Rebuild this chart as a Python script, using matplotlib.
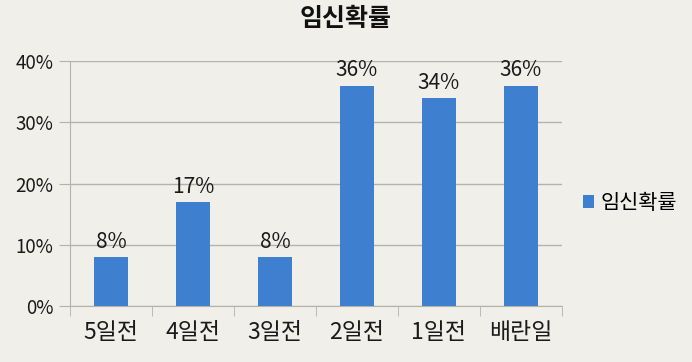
import matplotlib
matplotlib.use("Agg")
import matplotlib.pyplot as plt
import numpy as np

plt.rcParams['font.family'] = ['Noto Sans CJK KR', 'DejaVu Sans']

categories = ['5일전', '4일전', '3일전', '2일전', '1일전', '배란일']
values = [8, 17, 8, 36, 34, 36]
series_name = '임신확률'
yticks = [0, 10, 20, 30, 40]

bg = '#F0EFEA'
bar_color = '#3F7FD0'
grid_color = '#B4B2AC'

fig = plt.figure(figsize=(6.92, 3.62), dpi=100, facecolor=bg)
ax = fig.add_axes([0.101, 0.155, 0.711, 0.676], facecolor=bg)

x = np.arange(len(categories))
ax.bar(x, values, width=0.41, color=bar_color, label=series_name, zorder=3)

for xi, v in zip(x, values):
    ax.annotate(f'{v}%', (xi, v), xytext=(0, 3), textcoords='offset points',
                ha='center', va='bottom', fontsize=15, color='#1a1a1a')

ax.set_xlim(-0.5, len(categories) - 0.5)
ax.set_ylim(0, 40)
ax.set_yticks(yticks)
ax.set_yticklabels([f'{t}%' for t in yticks], fontsize=13.5, color='#1a1a1a')
ax.yaxis.grid(True, color=grid_color, linewidth=1, zorder=0)

ax.set_xticks(x)
ax.set_xticklabels(categories, fontsize=16.5, color='#1a1a1a')
ax.set_xticks(np.arange(len(categories) + 1) - 0.5, minor=True)
ax.tick_params(axis='x', which='major', length=0, pad=11)
ax.tick_params(axis='x', which='minor', length=7, color=grid_color, direction='out')
ax.tick_params(axis='y', length=8, color=grid_color, pad=4)

for side in ['top', 'right']:
    ax.spines[side].set_visible(False)
ax.spines['left'].set_color(grid_color)
ax.spines['bottom'].set_color(grid_color)

fig.suptitle('임신확률', x=0.5, y=0.98, fontsize=18, fontweight='bold', color='#111111')

leg = fig.legend(loc='center left', bbox_to_anchor=(0.842, 0.44), frameon=False,
                 fontsize=15, borderpad=0, borderaxespad=0,
                 handlelength=0.55, handleheight=0.55, handletextpad=0.3)

fig.savefig('out.png', dpi=100, facecolor=bg)
